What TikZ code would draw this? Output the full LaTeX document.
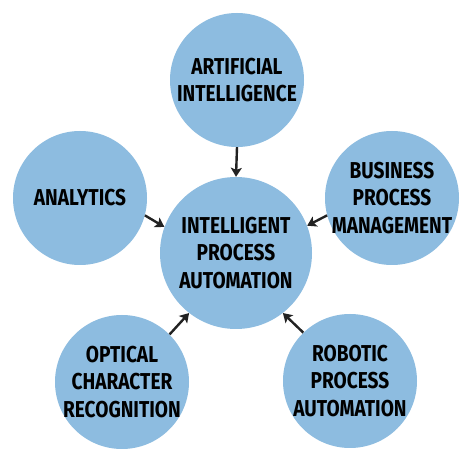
\documentclass[tikz,border=0pt]{standalone}
\usepackage{fontspec}
\newfontfamily\bubblefont[FakeStretch=0.83]{Fira Sans}
\usetikzlibrary{arrows.meta}
\definecolor{bubbleblue}{HTML}{8DBCE0}
\definecolor{arrowgray}{HTML}{222222}
\tikzset{
  bubble/.style={circle,fill=bubbleblue,inner sep=0pt,minimum size=134pt},
  hub/.style={bubble,minimum size=152pt},
  caption/.style={align=center,inner sep=0pt,
    font=\bubblefont\bfseries\fontsize{23}{27.5}\selectfont},
  feed/.style={-{Stealth[length=9pt,width=11pt,inset=2pt]},line width=2.4pt,arrowgray}
}
\begin{document}
\begin{tikzpicture}[x=1pt,y=1pt]
    \useasboundingbox[fill=white] (0,0) rectangle (474,474);
    % Bubbles %
    \node[hub,label={[caption]center:INTELLIGENT\\PROCESS\\AUTOMATION}] (ipa) at (236,221) {};
    \node[bubble,label={[caption]center:ARTIFICIAL\\INTELLIGENCE}] (ai) at (237,394) {};
    \node[bubble,label={[caption]center:ANALYTICS}] (ana) at (80,276) {};
    \node[bubble,label={[caption]center:BUSINESS\\PROCESS\\MANAGEMENT}] (bpm) at (392,276) {};
    \node[bubble,label={[caption]center:OPTICAL\\CHARACTER\\RECOGNITION}] (ocr) at (122,92) {};
    \node[bubble,label={[caption]center:ROBOTIC\\PROCESS\\AUTOMATION}] (rpa) at (350,93) {};

    % Arrows %
    \draw[feed] (ai.south) -- (ipa.north);
    \draw[feed] (ana.-15) -- (ipa.160);
    \draw[feed] (bpm.195) -- (ipa.21);
    \draw[feed] (ocr.45) -- (ipa.232);
    \draw[feed] (rpa.134) -- (ipa.308);
\end{tikzpicture}
\end{document}
